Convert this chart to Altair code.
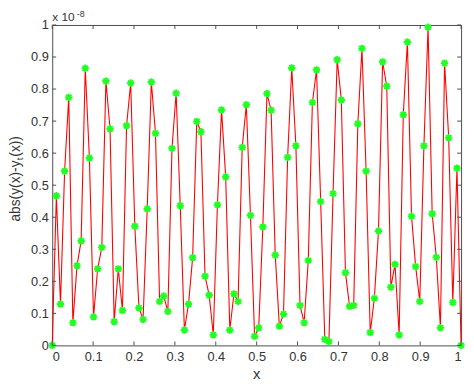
import altair as alt
import pandas as pd

# sample grid (100 evenly spaced points on [0, 1])
x_vals = [round(i / 99, 5) for i in range(100)]

# error values (units of 1e-8)
err_vals = [
    0.000, 0.467, 0.129, 0.544, 0.774, 0.071, 0.249, 0.326, 0.865, 0.585,
    0.089, 0.239, 0.306, 0.825, 0.676, 0.074, 0.239, 0.109, 0.686, 0.819,
    0.372, 0.117, 0.081, 0.426, 0.822, 0.662, 0.137, 0.154, 0.106, 0.615,
    0.787, 0.436, 0.048, 0.129, 0.274, 0.699, 0.667, 0.216, 0.157, 0.033,
    0.439, 0.735, 0.526, 0.048, 0.161, 0.137, 0.618, 0.751, 0.406, 0.028,
    0.055, 0.370, 0.786, 0.734, 0.282, 0.060, 0.098, 0.587, 0.866, 0.623,
    0.125, 0.071, 0.265, 0.758, 0.860, 0.449, 0.019, 0.012, 0.474, 0.892,
    0.766, 0.227, 0.122, 0.125, 0.692, 0.927, 0.544, 0.040, 0.147, 0.357,
    0.885, 0.809, 0.182, 0.253, 0.033, 0.720, 0.947, 0.403, 0.246, 0.137,
    0.623, 0.993, 0.411, 0.275, 0.055, 0.881, 0.648, 0.134, 0.553, 0.000,
]

x_ticks = [0, 0.1, 0.2, 0.3, 0.4, 0.5, 0.6, 0.7, 0.8, 0.9, 1]
y_ticks = [0, 0.1, 0.2, 0.3, 0.4, 0.5, 0.6, 0.7, 0.8, 0.9, 1]

W, H = 416, 326
FONT = "Liberation Sans"
AX = "#4d4d4d"
TXT = "#333333"

df = pd.DataFrame({"x": x_vals, "e": err_vals})
xt = pd.DataFrame({"x": x_ticks})
yt = pd.DataFrame({"e": y_ticks})

lab = "datum.value == 0 ? '0' : datum.value == 1 ? '1' : format(datum.value, '.1f')"

xscale = alt.Scale(domain=[0, 1], nice=False, zero=False)
yscale = alt.Scale(domain=[0, 1], nice=False, zero=False)

xaxis = alt.Axis(values=x_ticks, labelExpr=lab, tickSize=0, domain=False, grid=False,
                 labelOverlap=False, labelPadding=5, labelFontSize=13, labelFont=FONT,
                 labelColor=TXT, title=None)
yaxis = alt.Axis(values=y_ticks, labelExpr=lab, tickSize=0, domain=False, grid=False,
                 labelOverlap=False, labelPadding=4, labelFontSize=13, labelFont=FONT,
                 labelColor=TXT, title=None)

X = alt.X("x:Q", scale=xscale, axis=xaxis)
Y = alt.Y("e:Q", scale=yscale, axis=yaxis)

base = alt.Chart(df)

line = base.mark_line(color="#ff0000", strokeWidth=1.1).encode(x=X, y=Y)

star = "M-1,0L1,0M0,-1L0,1M-0.72,-0.72L0.72,0.72M-0.72,0.72L0.72,-0.72"
pts = base.mark_point(shape=star, filled=False, stroke="#22ff22", strokeWidth=2, size=56, opacity=1).encode(
    x=X, y=Y
)

tb = alt.Chart(xt).mark_rule(color=AX, strokeWidth=1).encode(
    x=X, y=alt.value(H), y2=alt.value(H - 4))
tt = alt.Chart(xt).mark_rule(color=AX, strokeWidth=1).encode(
    x=X, y=alt.value(0), y2=alt.value(4))
tl = alt.Chart(yt).mark_rule(color=AX, strokeWidth=1).encode(
    y=Y, x=alt.value(0), x2=alt.value(4))
tr = alt.Chart(yt).mark_rule(color=AX, strokeWidth=1).encode(
    y=Y, x=alt.value(W), x2=alt.value(W - 4))


def txt(s, size, x, y, align="left", baseline="alphabetic", angle=0):
    kw = dict(align=align, baseline=baseline, fontSize=size, font=FONT, color=TXT)
    if angle:
        kw["angle"] = angle
    return alt.Chart(pd.DataFrame({"s": [s]})).mark_text(**kw).encode(
        text="s:N", x=alt.value(x), y=alt.value(y))


exp_base = txt("x 10", 12, 0, -4)
exp_sup = txt("-8", 9, 25, -8)

xtitle = txt("x", 15, W / 2, 360, align="center")

# y title built from pieces so that the "t" can be a subscript (rotated 270)
YB = -33          # baseline x position (chart coords)
Y0 = 200          # bottom start of the title
p1 = txt("abs(y(x)-y", 14, YB, Y0, angle=270)
p2 = txt("t", 10, YB + 3, Y0 - 62.5, angle=270)
p3 = txt("(x))", 14, YB, Y0 - 62.5 - 3.5, angle=270)

chart = alt.layer(line, pts, tb, tt, tl, tr, exp_base, exp_sup, xtitle, p1, p2, p3).properties(
    width=W, height=H,
    autosize=alt.AutoSizeParams(type="none"),
    padding={"left": 45, "top": 14, "right": 5, "bottom": 36},
    background="white",
).configure_view(stroke=AX, strokeWidth=1)

chart.save("out.html", embed_options={"renderer": "svg", "actions": False})
